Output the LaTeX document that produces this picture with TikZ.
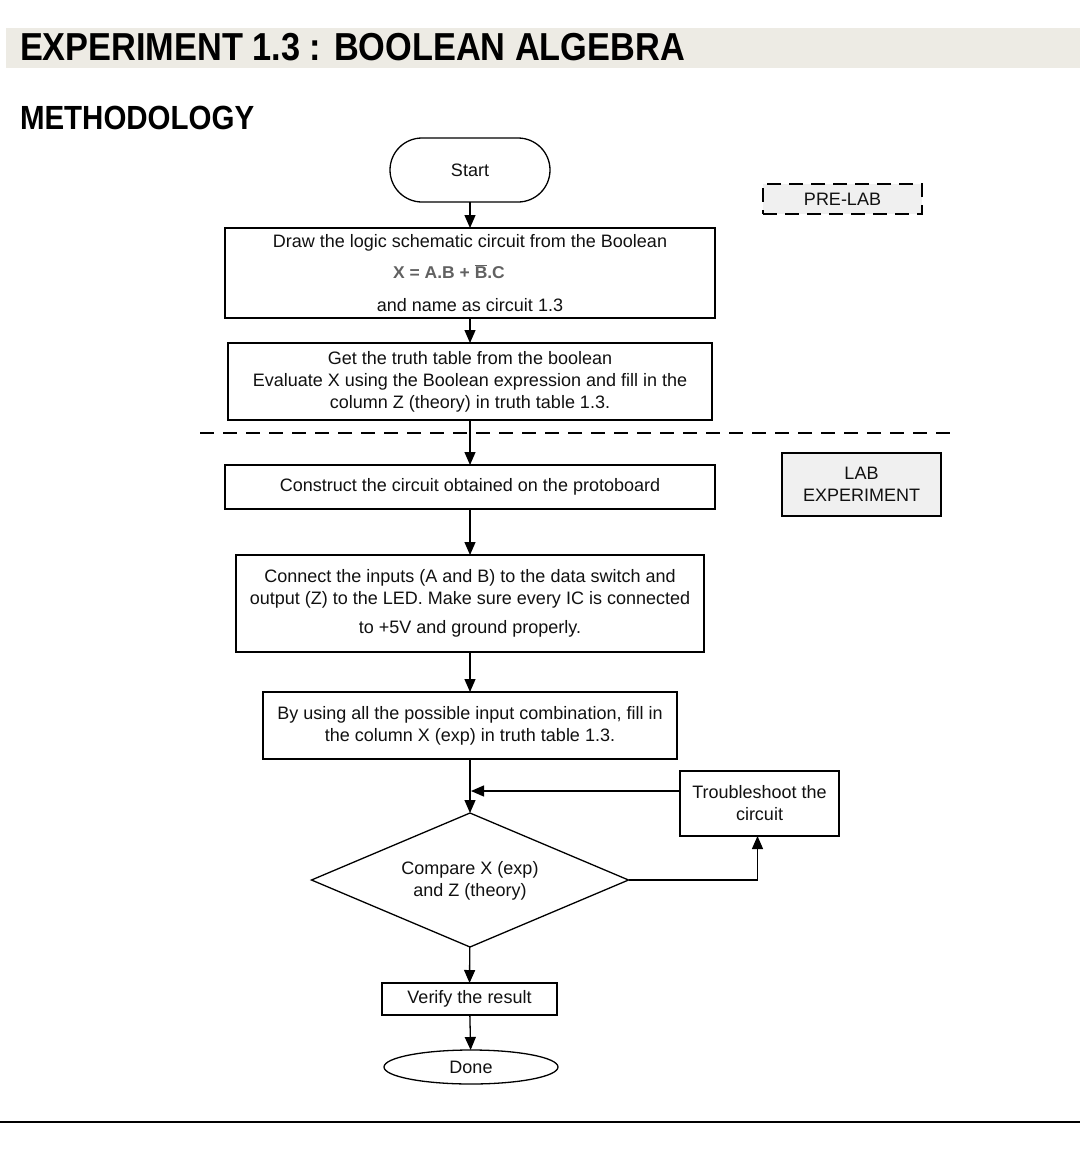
\documentclass[tikz,border=0pt]{standalone}
\usepackage{fontspec}
\setmainfont{Liberation Sans}
\usetikzlibrary{shapes.geometric,arrows.meta,calc}
\definecolor{band}{HTML}{EDEBE4}
\definecolor{boxfill}{HTML}{F0F0F0}
\definecolor{ink}{HTML}{111111}
\begin{document}
\begin{tikzpicture}[x=1pt,y=-1pt,
  every node/.style={inner sep=0pt,outer sep=0pt,text=ink},
  bodyfont/.style={font=\fontsize{18}{22}\selectfont},
  procbox/.style={draw,line width=1.3pt,rectangle,bodyfont,align=center},
  arr/.style={line width=1.3pt,-{Triangle[length=13pt,width=11pt]}},
  dashsep/.style={line width=1.3pt,dash pattern=on 14pt off 9pt}]
\useasboundingbox (0,0) rectangle (1080,1151);
\fill[white] (0,0) rectangle (1080,1151);
% title band
\fill[band] (6,28) rectangle (1080,68);
\node[anchor=base west,text=black,font=\fontsize{39}{39}\selectfont\bfseries] (title) at (20,60)
  {\scalebox{0.88}[1]{EXPERIMENT 1.3 : BOOLEAN ALGEBRA}};
\node[anchor=base west,text=black,font=\fontsize{33.5}{33.5}\selectfont\bfseries] (meth) at (20,129)
  {\scalebox{0.88}[1]{METHODOLOGY}};
% nodes
\node[draw,line width=1.3pt,rectangle,rounded corners=32pt,minimum width=160pt,minimum height=64pt,bodyfont] (start) at (470,170) {Start};
\node[procbox,minimum width=490pt,minimum height=90pt] (b1) at (470,273) {};
\node[bodyfont,anchor=base] (b1t1) at (470,247) {Draw the logic schematic circuit from the Boolean};
\node[font=\fontsize{19}{19}\selectfont\bfseries,text=black!62,anchor=base] (b1t2) at (449,278)
  {\scalebox{0.92}[0.9]{X = A.B + $\overline{\mbox{\bfseries B}}$.C}};
\node[bodyfont,anchor=base] (b1t3) at (470,311) {and name as circuit 1.3};
\node[procbox,minimum width=484pt,minimum height=77pt] (b2) at (470,381.5)
  {Get the truth table from the boolean\\Evaluate X using the Boolean expression and fill in the\\column Z (theory) in truth table 1.3.};
\node[procbox,minimum width=490pt,minimum height=44pt] (b3) at (470,487) {Construct the circuit obtained on the protoboard};
\node[procbox,minimum width=468pt,minimum height=97pt] (b4) at (470,603.5)
  {Connect the inputs (A and B) to the data switch and\\output (Z) to the LED. Make sure every IC is connected\\[7pt]to +5V and ground properly.};
\node[procbox,minimum width=414pt,minimum height=67pt] (b5) at (470,725.5)
  {By using all the possible input combination, fill in\\the column X (exp) in truth table 1.3.};
\node[draw,line width=1.3pt,diamond,minimum width=317pt,minimum height=134pt] (dia) at (470,880) {};
\node[bodyfont,align=center] (diat) at (470,881) {Compare X (exp)\\and Z (theory)};
\node[procbox,minimum width=159pt,minimum height=65pt] (trb) at (759.5,803.5) {Troubleshoot the\\circuit};
\node[procbox,minimum width=175pt,minimum height=32pt] (ver) at (469.5,999) {Verify the result};
\node[draw,line width=1.3pt,ellipse,minimum width=174pt,minimum height=34pt,bodyfont] (done) at (471,1067) {Done};
\node[draw,line width=1.3pt,dash pattern=on 14pt off 8pt,fill=boxfill,minimum width=159pt,minimum height=30pt,bodyfont] (pre) at (842.5,199) {PRE-LAB};
\node[procbox,fill=boxfill,minimum width=159pt,minimum height=63pt] (lab) at (861.5,484.5) {LAB\\EXPERIMENT};
% separator
\draw[dashsep] (200,433) -- (955,433);
% connectors
\draw[arr] (start) -- (b1);
\draw[arr] (b1) -- (b2);
\draw[arr] (b2) -- (b3);
\draw[arr] (b3) -- (b4);
\draw[arr] (b4) -- (b5);
\draw[arr] (b5) -- (dia);
\coordinate (tj) at (471,791);
\draw[arr] ([yshift=-20pt]trb.north west) -- (tj);
\draw[arr] (dia.east) -| ([xshift=-2pt]trb.south);
\draw[arr] (dia) -- (ver);
\draw[arr] (ver) -- (done);
% bottom rule
\draw[line width=2.5pt,black] (0,1122) -- (1080,1122);
\end{tikzpicture}
\end{document}
